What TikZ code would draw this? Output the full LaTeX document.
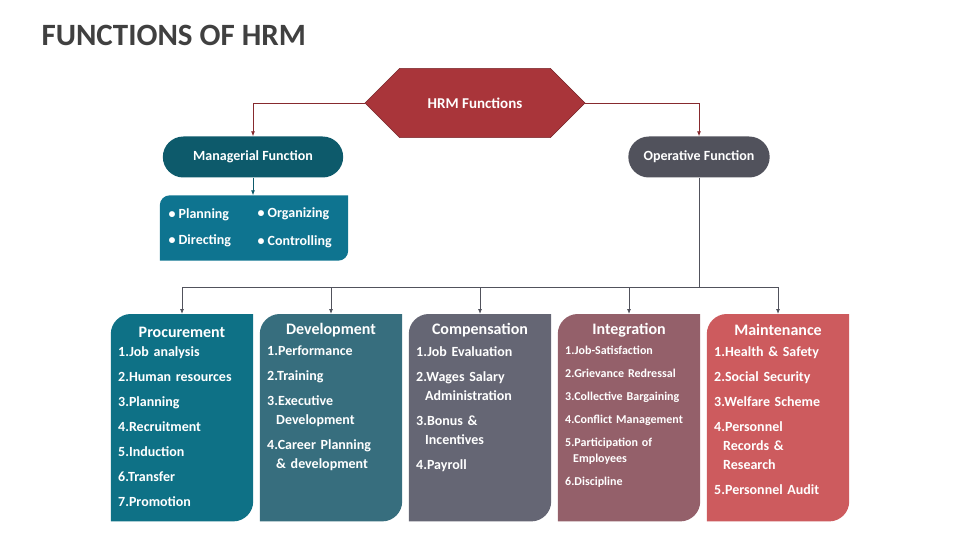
\documentclass[tikz,border=0pt]{standalone}
\usepackage{fontspec}
\setmainfont{Carlito}
\usetikzlibrary{arrows.meta, positioning, shapes.misc}
\definecolor{hrmred}{HTML}{A9353A}
\definecolor{mgrteal}{HTML}{0D5A6B}
\definecolor{listteal}{HTML}{0E7490}
\definecolor{opgray}{HTML}{51525C}
\definecolor{procc}{HTML}{0E7186}
\definecolor{devc}{HTML}{376E7E}
\definecolor{compc}{HTML}{656674}
\definecolor{integc}{HTML}{94606A}
\definecolor{maintc}{HTML}{CD5B5E}
\definecolor{titlegray}{HTML}{404040}
\newcommand{\cornerbox}[3]{% node, colour, radius
  \fill[#2] (#1.south west) -- ([yshift=-#3]#1.north west) arc(180:90:#3)
    -- (#1.north east) -- ([yshift=#3]#1.south east) arc(0:-90:#3) -- cycle;}
\begin{document}
\begin{tikzpicture}[
    x=1pt, y=-1pt,
    font=\bfseries\color{white},
    pill/.style={rounded rectangle, minimum height=41pt, font=\fontsize{14}{16}\selectfont\bfseries\color{white}},
    boxshape/.style={minimum width=142pt, minimum height=207pt, inner sep=0pt, anchor=north},
    boxtitle/.style={font=\fontsize{16}{18}\selectfont\bfseries\color{white}, inner sep=0pt},
    boxlist/.style={align=left, text width=134pt, inner sep=0pt, anchor=north west, font=\fontsize{14}{19}\selectfont\bfseries\color{white}},
    link/.style={-{Latex[length=5pt,width=4pt]}, line width=0.8pt},
    ]
    \useasboundingbox (0,0) rectangle (960,540);

    \node[anchor=west, font=\fontsize{31}{34}\selectfont\bfseries\color{titlegray}] (title) at (38,35) {FUNCTIONS OF HRM};

    \node[chamfered rectangle, chamfered rectangle xsep=24pt, chamfered rectangle ysep=26pt,
          fill=hrmred, draw=hrmred!70!black, minimum width=220pt, minimum height=52pt,
          font=\fontsize{15}{17}\selectfont\bfseries\color{white}] (hrm) at (475,103) {HRM Functions};
    \node[pill, fill=mgrteal, minimum width=187pt] (mgr) at (253,157) {Managerial Function};
    \node[pill, fill=opgray, minimum width=148pt] (op) at (699,157) {Operative Function};

    % managerial list
    \node[minimum width=188pt, minimum height=65pt, inner sep=0pt] (mlist) at (254,228) {};
    \cornerbox{mlist}{listteal}{10pt}
    \node[anchor=west, font=\fontsize{14}{16}\selectfont\bfseries\color{white}] (m1) at (165,215) {\textbullet\ Planning};
    \node[anchor=west, font=\fontsize{14}{16}\selectfont\bfseries\color{white}] (m2) at (254,214) {\textbullet\ Organizing};
    \node[anchor=west, font=\fontsize{14}{16}\selectfont\bfseries\color{white}] (m3) at (165,241) {\textbullet\ Directing};
    \node[anchor=west, font=\fontsize{14}{16}\selectfont\bfseries\color{white}] (m4) at (254,242) {\textbullet\ Controlling};

    % operative boxes
    \node[boxshape] (proc) at (182,314) {};
    \node[boxshape] (dev) at (331,314) {};
    \node[boxshape] (comp) at (480,314) {};
    \node[boxshape] (integ) at (629,314) {};
    \node[boxshape] (maint) at (778,314) {};
    \cornerbox{proc}{procc}{20pt}
    \cornerbox{dev}{devc}{20pt}
    \cornerbox{comp}{compc}{20pt}
    \cornerbox{integ}{integc}{20pt}
    \cornerbox{maint}{maintc}{20pt}

    \node[boxtitle] (proct) at (182,332) {Procurement};
    \node[boxtitle] (devt) at (331,330) {Development};
    \node[boxtitle] (compt) at (480,330) {Compensation};
    \node[boxtitle] (integt) at (629,330) {Integration};
    \node[boxtitle] (maintt) at (778,330) {Maintenance};

    \node[boxlist] (procl) at (118,346) {1.Job analysis\\[6pt]2.Human resources\\[6pt]3.Planning\\[6pt]4.Recruitment\\[6pt]5.Induction\\[6pt]6.Transfer\\[6pt]7.Promotion};
    \node[boxlist] (devl) at (267,346) {1.Performance\\[6pt]2.Training\\[6pt]3.Executive\\\hspace*{9pt}Development\\[6pt]4.Career Planning\\\hspace*{9pt}\& development};
    \node[boxlist] (compl) at (416,346) {1.Job Evaluation\\[6pt]2.Wages Salary\\\hspace*{9pt}Administration\\[6pt]3.Bonus \&\\\hspace*{9pt}Incentives\\[6pt]4.Payroll};
    \node[boxlist, font=\fontsize{12}{16}\selectfont\bfseries\color{white}] (integl) at (565,346) {1.Job-Satisfaction\\[7pt]2.Grievance Redressal\\[7pt]3.Collective Bargaining\\[7pt]4.Conflict Management\\[7pt]5.Participation of\\\hspace*{8pt}Employees\\[7pt]6.Discipline};
    \node[boxlist] (maintl) at (714,346) {1.Health \& Safety\\[6pt]2.Social Security\\[6pt]3.Welfare Scheme\\[6pt]4.Personnel\\\hspace*{9pt}Records \&\\\hspace*{9pt}Research\\[6pt]5.Personnel Audit};

    % connectors
    \draw[link, draw=hrmred!80!black] (hrm.west) -| (mgr.north);
    \draw[link, draw=hrmred!80!black] (hrm.east) -| (op.north);
    \draw[link, draw=mgrteal] (mgr.south) -- (mlist.north -| mgr.south);
    \coordinate (split) at (699,287);
    \draw[line width=1pt, draw=opgray] (op.south) -- (split);
    \draw[line width=0.8pt, draw=opgray] (proc.north |- split) -- (maint.north |- split);
    \foreach \b in {proc, dev, comp, integ, maint}
      \draw[link, draw=opgray] (\b.north |- split) -- (\b.north);
\end{tikzpicture}
\end{document}
